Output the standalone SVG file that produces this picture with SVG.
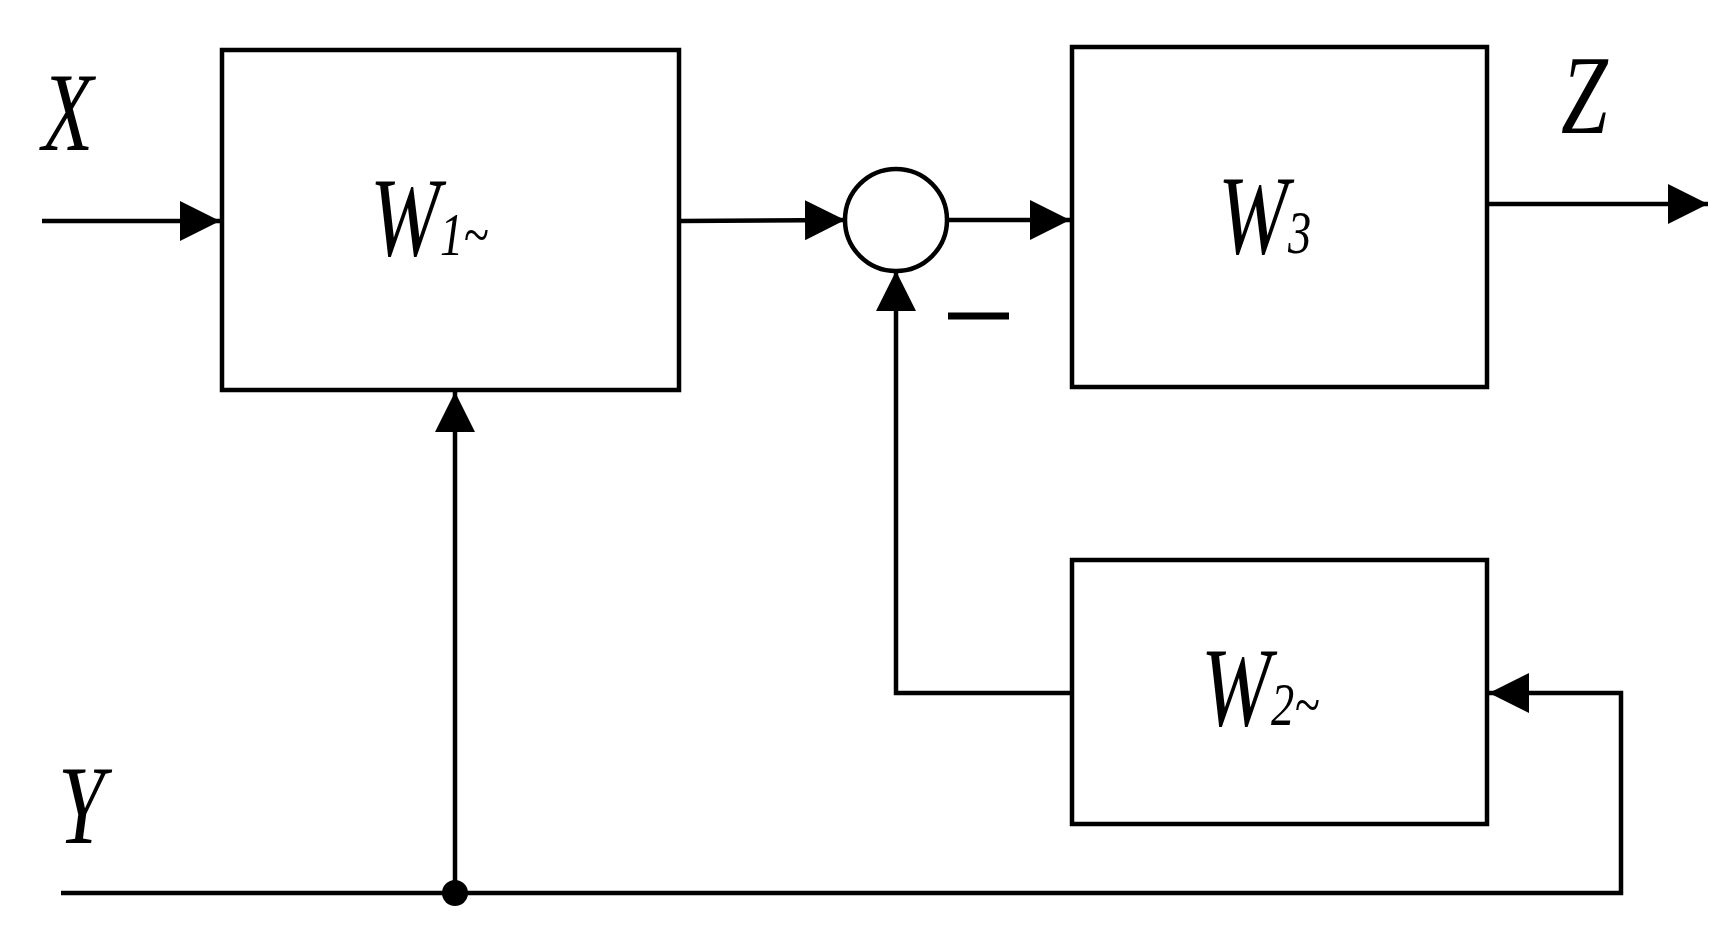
<svg xmlns="http://www.w3.org/2000/svg" width="1730" height="933" viewBox="0 0 1730 933">
<style>
.b{fill:#fff;stroke:#000;stroke-width:4.5}
.l{fill:none;stroke:#000;stroke-width:4.5}
.t{font-family:"Liberation Serif",serif;font-style:italic;fill:#000}
.big{font-size:112px}
.sub{font-size:62px}
</style>
<defs>
<marker id="ar" viewBox="0 0 40 40" refX="40" refY="20" markerWidth="40" markerHeight="40" orient="auto" markerUnits="userSpaceOnUse">
<path d="M0,0 L40,20 L0,40 Z" fill="#000"/>
</marker>
</defs>
<g id="connectors">
<line class="l" x1="42" y1="221" x2="220" y2="221" marker-end="url(#ar)"/>
<line class="l" x1="681" y1="221" x2="845" y2="220" marker-end="url(#ar)"/>
<line class="l" x1="947" y1="220" x2="1070" y2="220" marker-end="url(#ar)"/>
<line class="l" x1="1489" y1="204" x2="1708" y2="204" marker-end="url(#ar)"/>
<polyline class="l" points="1072,693 896,693 896,271" marker-end="url(#ar)"/>
<polyline class="l" points="61,893 1621,893 1621,693 1489,693" marker-end="url(#ar)"/>
<line class="l" x1="455" y1="893" x2="455" y2="392" marker-end="url(#ar)"/>
<circle cx="455" cy="893" r="13" fill="#000"/>
<line x1="948" y1="316" x2="1009" y2="316" stroke="#000" stroke-width="7"/>
</g>
<g id="W1"><rect class="b" x="222" y="50" width="457" height="340"/>
<text class="t" transform="translate(370,255) scale(0.75,1)"><tspan class="big">W</tspan><tspan class="sub">1~</tspan></text></g>
<g id="sum"><circle class="b" cx="896" cy="220" r="51"/></g>
<g id="W3"><rect class="b" x="1072" y="47" width="415" height="340"/>
<text class="t" transform="translate(1218,253) scale(0.75,1)"><tspan class="big">W</tspan><tspan class="sub">3</tspan></text></g>
<g id="W2"><rect class="b" x="1072" y="560" width="415" height="264"/>
<text class="t" transform="translate(1201,725) scale(0.75,1)"><tspan class="big">W</tspan><tspan class="sub">2~</tspan></text></g>
<text class="t big" transform="translate(42,150) scale(0.75,1)">X</text>
<text class="t big" transform="translate(1561,133) scale(0.75,1)">Z</text>
<text class="t big" transform="translate(58,843) scale(0.75,1)">Y</text>
</svg>
